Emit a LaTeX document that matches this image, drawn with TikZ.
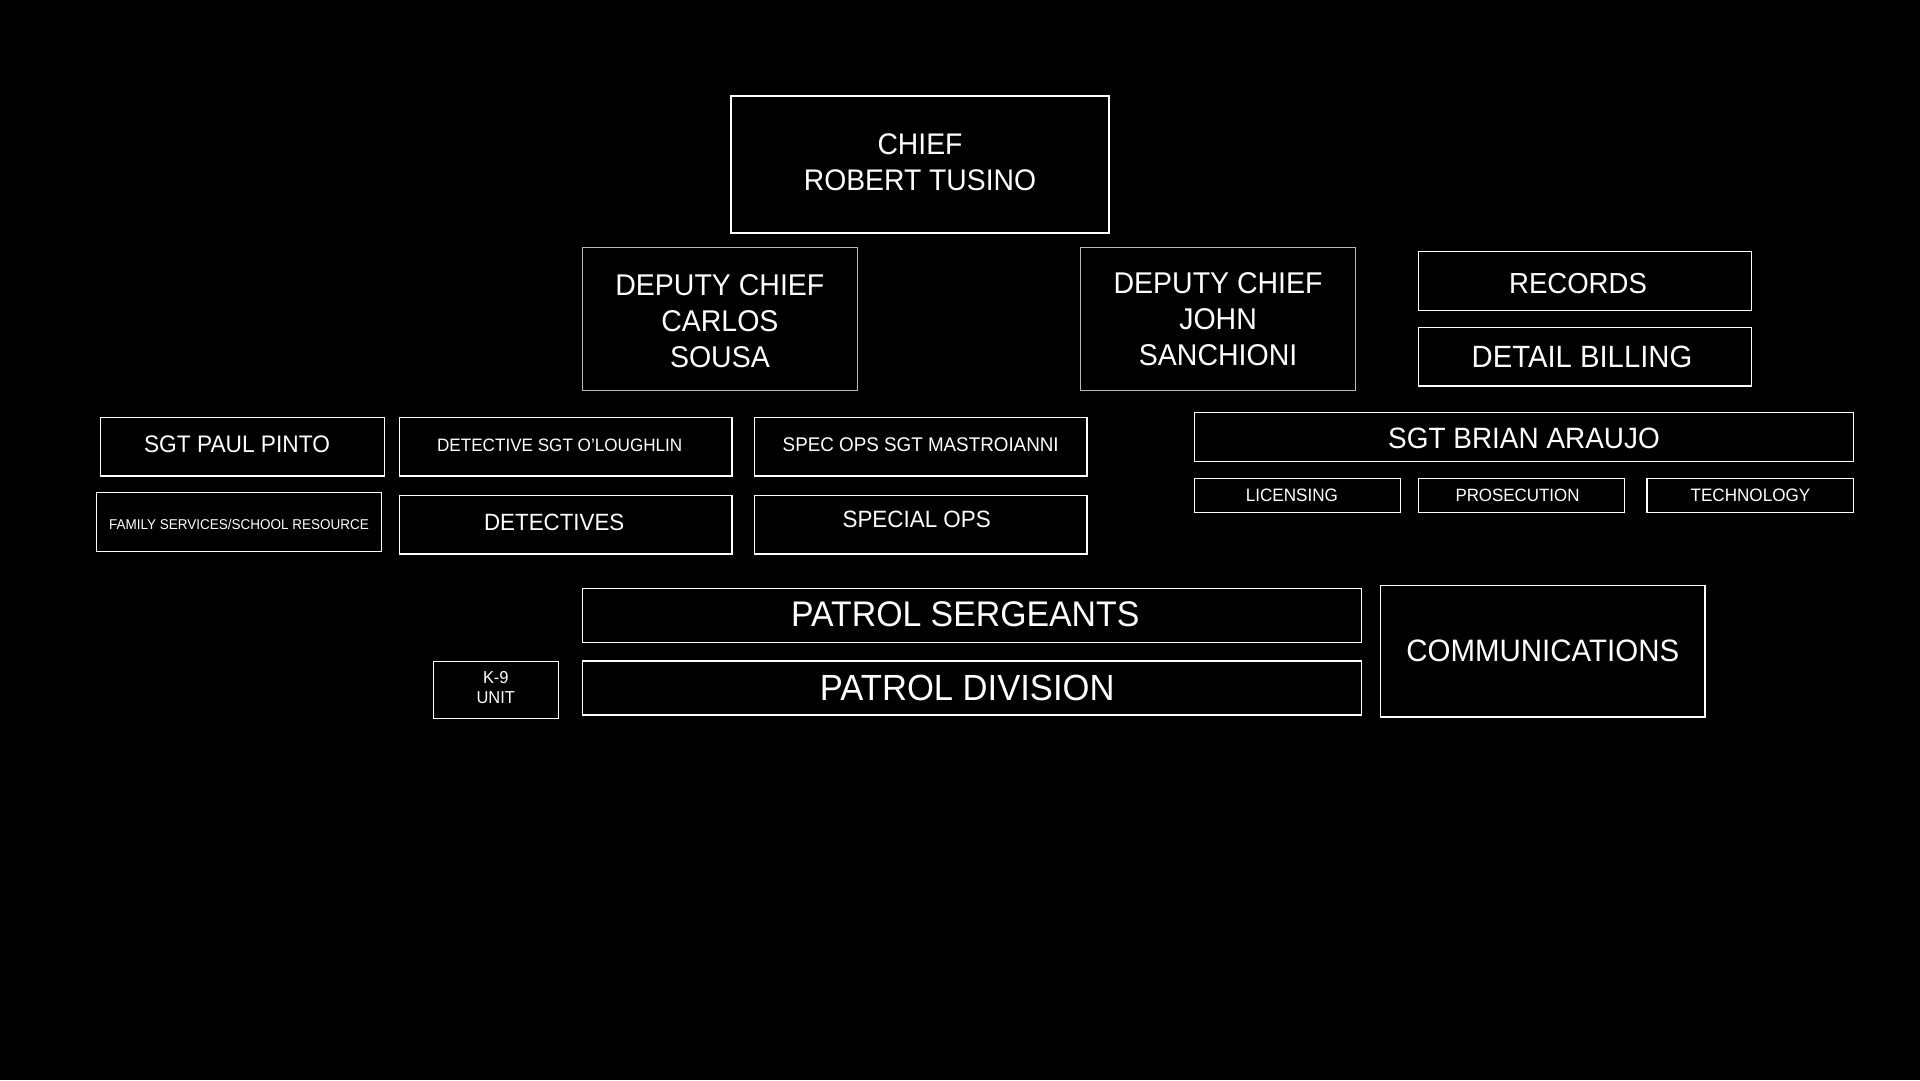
\documentclass[tikz,border=0pt]{standalone}
\usepackage{fontspec}
\setmainfont{Liberation Sans}[FakeStretch=0.95]
\newcommand\fsz[2]{\fontsize{#1}{#2}\selectfont}
\tikzset{
  box/.style={draw=white, line width=1.3pt, text=white, inner sep=0pt, align=center, rectangle},
  depbox/.style={box, draw=white!72!black, line width=1.1pt},
  up/.style={text depth=#1},
  down/.style={text height=#1},
}
\begin{document}
\begin{tikzpicture}[x=1pt,y=-1pt]
\fill[black] (0,0) rectangle (1920,1080);
\useasboundingbox (0,0) rectangle (1920,1080);

\node[box, up=5pt, minimum width=378pt, minimum height=137pt, font=\fsz{29.8}{35.7}] (chief) at (920,164.5) {CHIEF\\ROBERT TUSINO};

\node[depbox, down=98.5pt, minimum width=274.4pt, minimum height=143pt, font=\fsz{30}{36}] (dep1) at (719.9,318.8) {DEPUTY CHIEF\\CARLOS\\SOUSA};
\node[depbox, minimum width=275pt, minimum height=143pt, font=\fsz{30}{36}] (dep2) at (1218.1,318.8) {DEPUTY CHIEF\\JOHN\\SANCHIONI};

\node[box, down=25.8pt, minimum width=333.4pt, minimum height=58.6pt, font=\fsz{29}{35}] (records) at (1585,281) {RECORDS\hspace*{14pt}};
\node[box, minimum width=333.4pt, minimum height=58.7pt, font=\fsz{30.8}{36}] (billing) at (1585,356.7) {DETAIL BILLING\hspace*{6pt}};

\node[box, up=5pt, minimum width=284.4pt, minimum height=58.7pt, font=\fsz{23.9}{28}] (pinto) at (242.5,446.7) {SGT PAUL PINTO\hspace*{11pt}};
\node[box, down=15.2pt, minimum width=285.4pt, minimum height=59pt, font=\fsz{14.2}{17}] (family) at (239,521.8) {FAMILY SERVICES/SCHOOL RESOURCE};

\node[box, up=2pt, minimum width=332.5pt, minimum height=58.7pt, font=\fsz{18}{22}] (detsgt) at (565.7,446.7) {DETECTIVE SGT O’LOUGHLIN\hspace*{12pt}};
\node[box, up=5pt, minimum width=332.5pt, minimum height=58.7pt, font=\fsz{23.5}{28}] (detectives) at (565.7,524.7) {DETECTIVES\hspace*{23pt}};
\node[box, up=5pt, minimum width=332.6pt, minimum height=58.7pt, font=\fsz{19.8}{23}] (specsgt) at (920.7,446.7) {SPEC OPS SGT MASTROIANNI};
\node[box, up=10pt, minimum width=332.6pt, minimum height=58.7pt, font=\fsz{23.6}{28}] (specops) at (920.7,524.7) {SPECIAL OPS\hspace*{8pt}};

\node[box, down=24.5pt, minimum width=659.4pt, minimum height=49pt, font=\fsz{29.4}{35}] (araujo) at (1524,436.8) {SGT BRIAN ARAUJO};
\node[box, minimum width=206.2pt, minimum height=34pt, font=\fsz{18}{22}] (licensing) at (1297.4,495.3) {LICENSING\hspace*{11pt}};
\node[box, minimum width=206.2pt, minimum height=34pt, font=\fsz{17.8}{22}] (prosecution) at (1521.5,495.3) {PROSECUTION\hspace*{8pt}};
\node[box, minimum width=206.7pt, minimum height=34pt, font=\fsz{18}{22}] (technology) at (1750.4,495.3) {TECHNOLOGY};

\node[box, up=2pt, minimum width=779pt, minimum height=54pt, font=\fsz{35.6}{40}] (patsgt) at (972.2,615.3) {PATROL SERGEANTS\hspace*{14pt}};
\node[box, minimum width=779pt, minimum height=54pt, font=\fsz{36.4}{40}] (patdiv) at (972.2,688) {PATROL DIVISION\hspace*{10pt}};
\node[box, up=2pt, minimum width=324.3pt, minimum height=131.7pt, font=\fsz{31}{35}] (comms) at (1542.8,651.2) {COMMUNICATIONS};
\node[box, up=4pt, minimum width=125pt, minimum height=57pt, font=\fsz{17.3}{20}] (k9) at (495.8,689.8) {K-9\\UNIT};
\end{tikzpicture}
\end{document}
